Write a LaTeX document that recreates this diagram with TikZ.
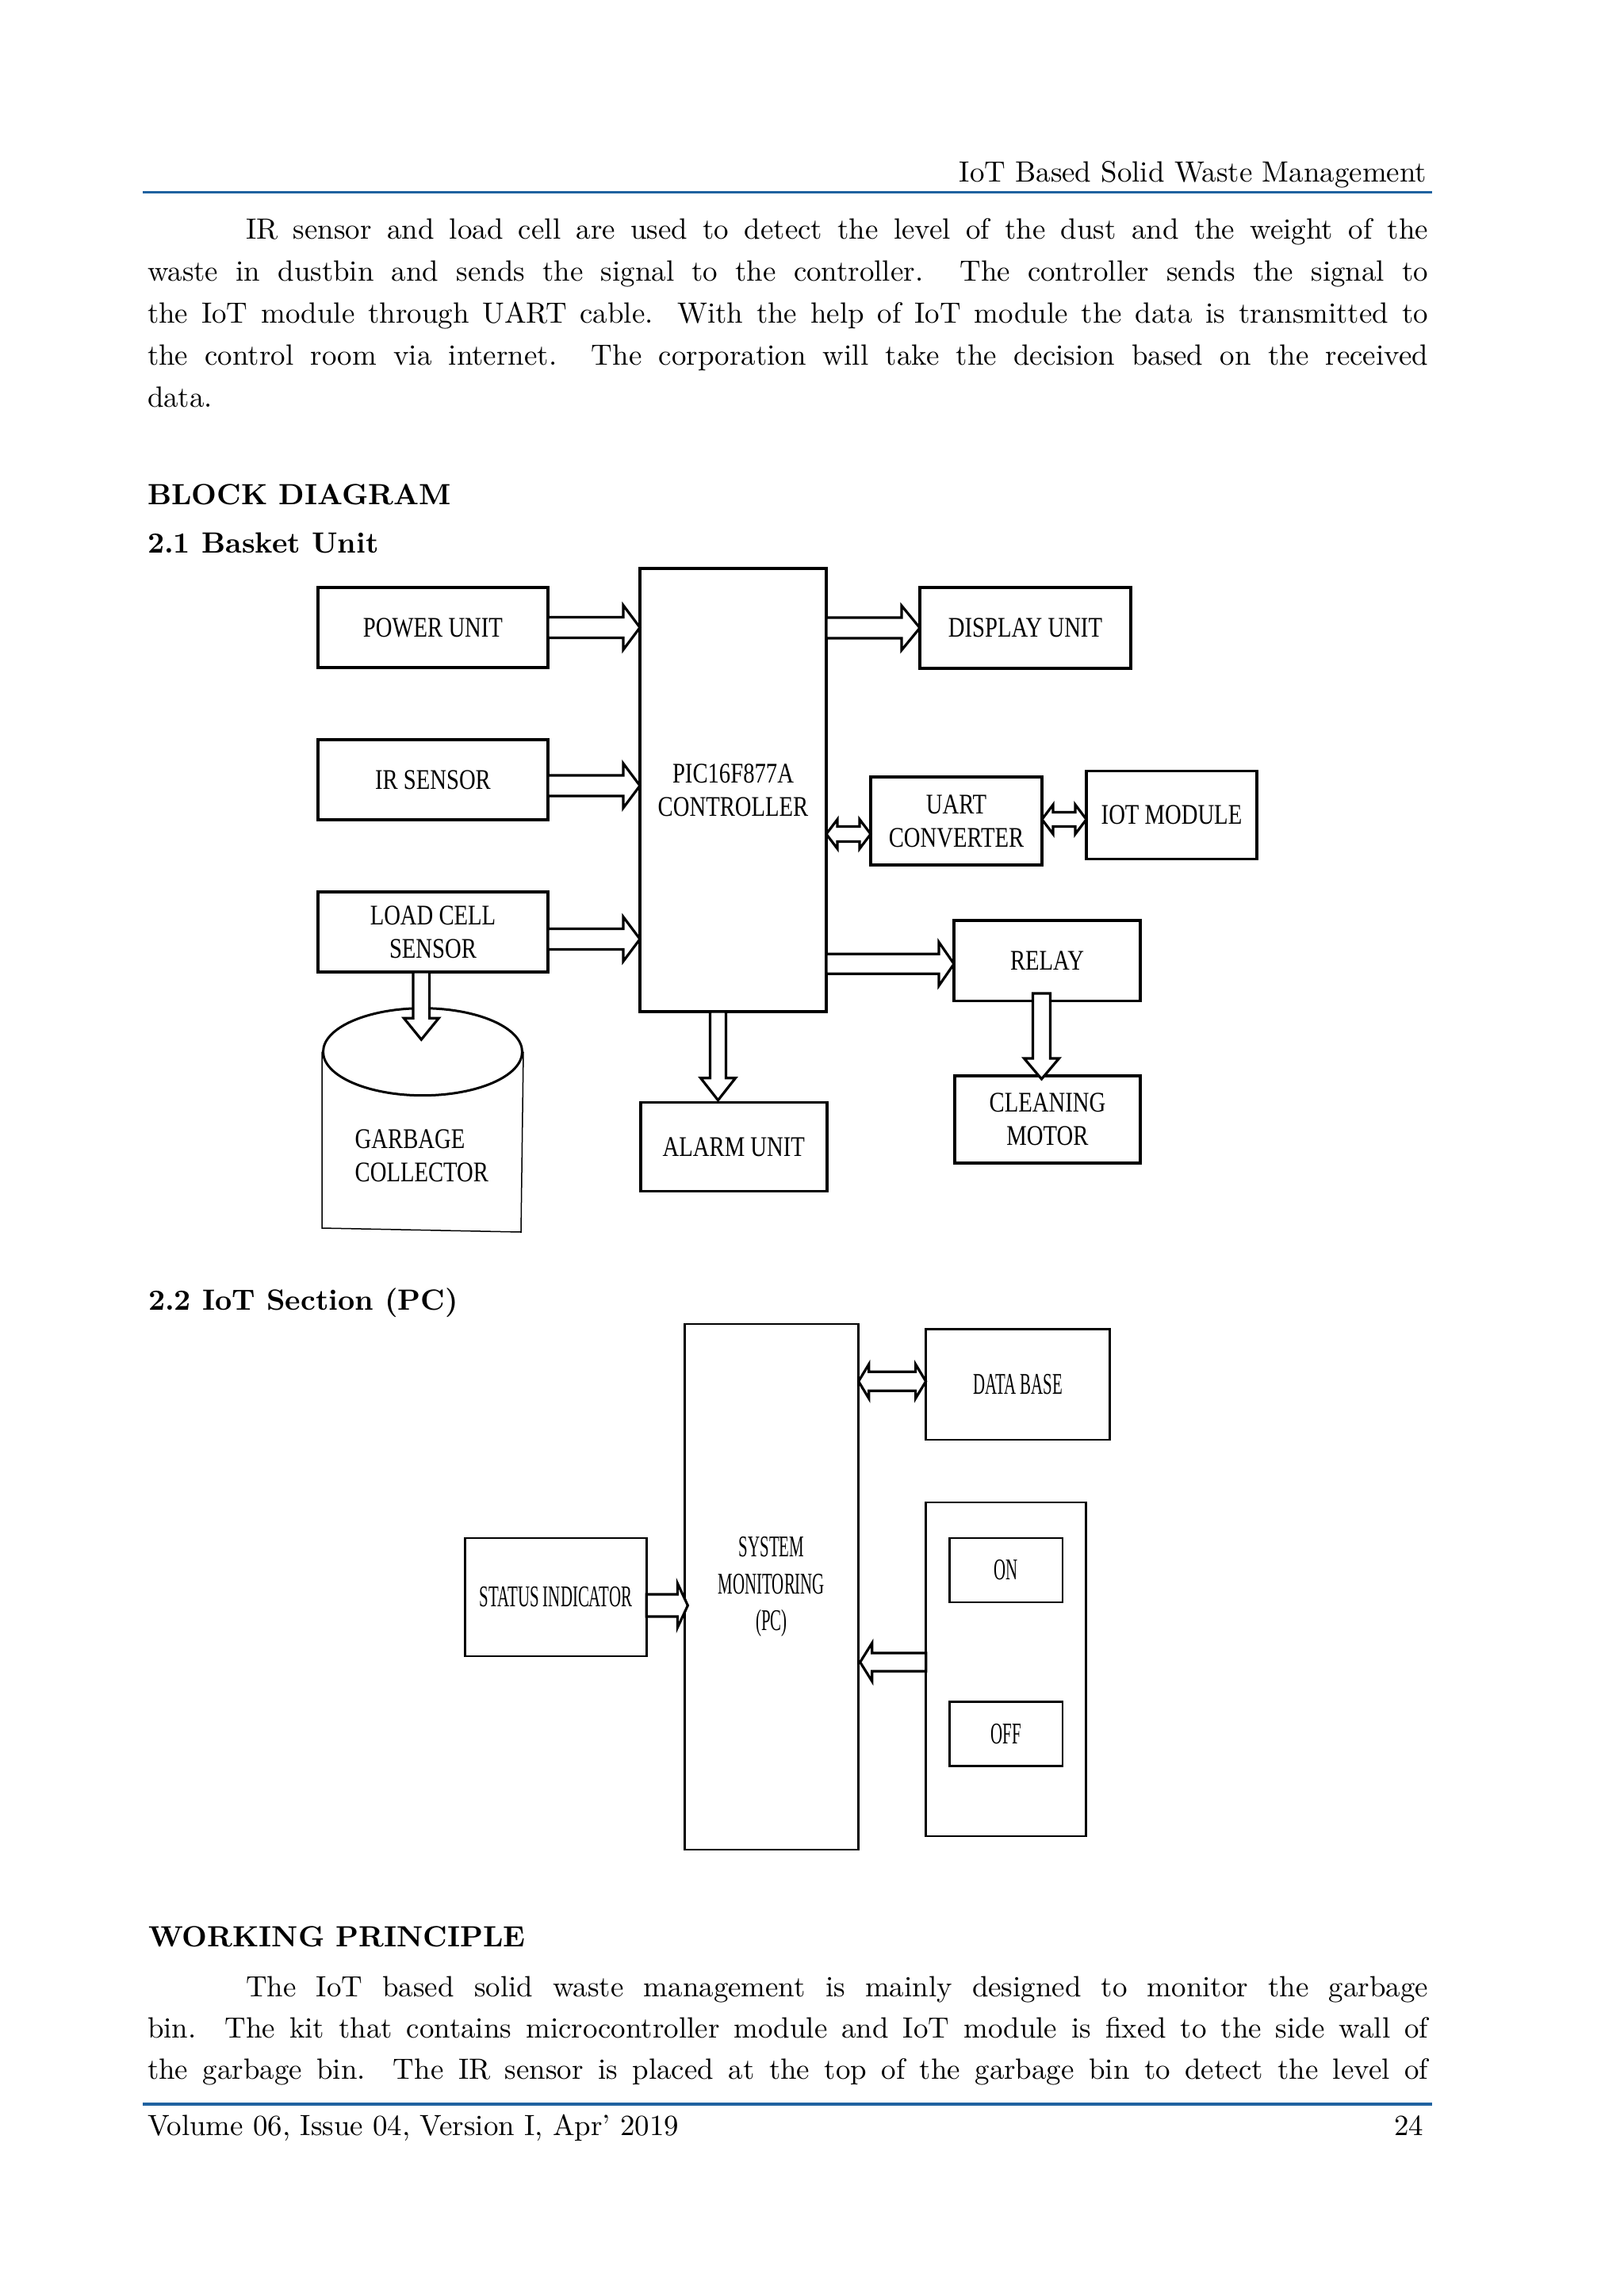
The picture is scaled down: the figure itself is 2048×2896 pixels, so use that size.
\documentclass[tikz,border=0pt]{standalone}
\usepackage{fontspec}
\newfontfamily\diagfA[FakeStretch=0.8]{Liberation Serif}
\newfontfamily\diagfB[FakeStretch=0.55]{Liberation Serif}
\usetikzlibrary{calc,shapes.geometric}
\definecolor{rulec}{RGB}{31,98,160}
\tikzset{
  txt/.style={anchor=base west, inner sep=0pt, outer sep=0pt, font=\fontsize{10.5}{12.6}\selectfont},
  hdg/.style={txt, font=\fontsize{10.5}{12.6}\selectfont\bfseries},
  rulel/.style={draw=rulec, line width=0.33mm},
  blk/.style={draw, line width=0.35mm, inner sep=0pt, outer sep=0pt, align=center,
              font=\diagfA\fontsize{10.2}{11.95}\selectfont},
  blkb/.style={draw, line width=0.28mm, inner sep=0pt, outer sep=0pt, align=center,
              font=\diagfB\fontsize{10.8}{13.2}\selectfont},
  lbl/.style={inner sep=0pt, font=\diagfA\fontsize{10.2}{11.95}\selectfont},
  arr/.style={draw, fill=white, line width=0.32mm, line join=miter},
}
% single hollow arrow: from #1 to #2, shaft half width #3, head half width #4, head length #5
\newcommand{\sarr}[5]{%
  \path ($(#2)!#5!(#1)$) coordinate (hbx);
  \draw[arr] ($(#1)!#3!90:(#2)$) -- ($(hbx)!#3!90:(#2)$) -- ($(hbx)!#4!90:(#2)$) -- (#2)
     -- ($(hbx)!#4!-90:(#2)$) -- ($(hbx)!#3!-90:(#2)$) -- ($(#1)!#3!-90:(#2)$) -- cycle;}
% double hollow arrow
\newcommand{\darr}[5]{%
  \path ($(#1)!#5!(#2)$) coordinate (hax) ($(#2)!#5!(#1)$) coordinate (hbx);
  \draw[arr] (#1) -- ($(hax)!#4!90:(#2)$) -- ($(hax)!#3!90:(#2)$) -- ($(hbx)!#3!90:(#2)$)
     -- ($(hbx)!#4!90:(#2)$) -- (#2) -- ($(hbx)!#4!-90:(#2)$) -- ($(hbx)!#3!-90:(#2)$)
     -- ($(hax)!#3!-90:(#2)$) -- ($(hax)!#4!-90:(#2)$) -- cycle;}
\begin{document}
\begin{tikzpicture}[x=0.1mm,y=-0.1mm]
\useasboundingbox (0,0) rectangle (2048,2896);
\fill[white] (0,0) rectangle (2048,2896);

% ---------- header ----------
\node[txt, anchor=base east] (head) at (1799,230) {IoT Based Solid Waste Management};
\draw[rulel] (180,242.5) -- (1806,242.5);

% ---------- first paragraph ----------
\node[txt] (pa1) at (310,302) {\makebox[149.1mm][s]{IR sensor and load cell are used to detect the level of the dust and the weight of the}};
\node[txt] (pa2) at (186,355) {\makebox[161.5mm][s]{waste in dustbin and sends the signal to the controller. The controller sends the signal to}};
\node[txt] (pa3) at (186,408) {\makebox[161.5mm][s]{the IoT module through UART cable. With the help of IoT module the data is transmitted to}};
\node[txt] (pa4) at (186,461) {\makebox[161.5mm][s]{the control room via internet. The corporation will take the decision based on the received}};
\node[txt] (pa5) at (186,513) {data.};

\node[hdg] (h1) at (186,636) {BLOCK DIAGRAM};
\node[hdg] (h2) at (186,697) {2.1 Basket Unit};

% ---------- basket unit diagram ----------
\node[blk, minimum width=29mm, minimum height=10.1mm] (power) at (546,791.5) {POWER UNIT};
\node[blk, minimum width=29mm, minimum height=10.1mm] (ir) at (546,983.5) {IR SENSOR};
\node[blk, minimum width=29mm, minimum height=10.1mm] (load) at (546,1175.5) {LOAD CELL\\SENSOR};
\node[blk, minimum width=23.5mm, minimum height=55.9mm] (ctrl) at (924.5,996.5) {PIC16F877A\\CONTROLLER};
\node[blk, minimum width=26.6mm, minimum height=10.2mm] (display) at (1293,792) {DISPLAY UNIT};
\node[blk, minimum width=21.6mm, minimum height=11.1mm] (uart) at (1206,1035.5) {UART\\CONVERTER};
\node[blk, minimum width=21.5mm, minimum height=11.1mm] (iot) at (1477.5,1028) {IOT MODULE};
\node[blk, minimum width=23.5mm, minimum height=10.15mm] (relay) at (1320.5,1211.8) {RELAY};
\node[blk, minimum width=23.4mm, minimum height=11mm] (motor) at (1321,1412) {CLEANING\\MOTOR};
\node[blk, minimum width=23.5mm, minimum height=11.2mm] (alarm) at (925.3,1446.7) {ALARM UNIT};

\node[draw, ellipse, line width=0.3mm, minimum width=25.1mm, minimum height=11mm, inner sep=0pt] (bin) at (533,1326.7) {};
\draw[line width=0.15mm] (bin.west) -- ++(0,222.3) coordinate (binbl) -- ++(251,5) coordinate (binbr) -- (bin.east);
\node[lbl, anchor=west, align=left] (gtext) at (447,1457.5) {GARBAGE\\COLLECTOR};

% arrows
\coordinate (pwa) at (power.east); \coordinate (pwb) at (ctrl.west |- pwa);
\sarr{pwa}{pwb}{1.3mm}{2.8mm}{2.1mm}
\coordinate (ira) at ($(ir.east)+(0,7.5)$); \coordinate (irb) at (ctrl.west |- ira);
\sarr{ira}{irb}{1.3mm}{2.8mm}{2.1mm}
\coordinate (lda) at ($(load.east)+(0,9)$); \coordinate (ldb) at (ctrl.west |- lda);
\sarr{lda}{ldb}{1.3mm}{2.8mm}{2.1mm}
\coordinate (dsb) at (display.west); \coordinate (dsa) at (ctrl.east |- dsb);
\sarr{dsa}{dsb}{1.3mm}{2.8mm}{2.3mm}
\coordinate (cub) at ($(uart.west)+(0,16.5)$); \coordinate (cua) at (ctrl.east |- cub);
\darr{cua}{cub}{0.95mm}{1.85mm}{1.4mm}
\coordinate (uia) at ($(uart.east)+(0,-2)$); \coordinate (uib) at (iot.west |- uia);
\darr{uia}{uib}{0.9mm}{1.85mm}{1.4mm}
\coordinate (rlb) at ($(relay.west)+(0,4)$); \coordinate (rla) at (ctrl.east |- rlb);
\sarr{rla}{rlb}{1.25mm}{2.75mm}{1.9mm}
\coordinate (mta) at ($(relay.south)+(-7,-9.6)$); \coordinate (mtb) at ($(mta |- motor.north)+(0,4)$);
\sarr{mta}{mtb}{1.1mm}{2.2mm}{2.6mm}
\coordinate (gba) at ($(load.south)+(-14.7,0)$); \coordinate (gbt) at ($(bin.north)+(0,41)$); \coordinate (gbb) at (gba |- gbt);
\sarr{gba}{gbb}{1.03mm}{2.2mm}{2.7mm}
\coordinate (ala) at ($(ctrl.south)+(-19,0)$); \coordinate (alb) at ($(ala |- alarm.north)+(0,-3)$);
\sarr{ala}{alb}{1.0mm}{2.2mm}{2.8mm}

% ---------- IoT section ----------
\node[hdg] (h3) at (187,1652) {2.2 IoT Section (PC)};

\node[blkb, minimum width=21.93mm, minimum height=66.3mm] (sys) at (973,2001.5) {SYSTEM\\MONITORING\\(PC)};
\node[blkb, minimum width=23.2mm, minimum height=13.94mm] (db) at (1283.6,1746.3) {DATA BASE};
\node[blkb, minimum width=22.85mm, minimum height=14.9mm] (status) at (701,2014.5) {STATUS INDICATOR};
\node[blkb, minimum width=20.2mm, minimum height=42.1mm] (panel) at (1268.7,2105.5) {};
\node[blkb, minimum width=14.25mm, minimum height=8.1mm] (on) at (1268.7,1980.5) {ON};
\node[blkb, minimum width=14.25mm, minimum height=8.03mm] (off) at (1268.7,2187) {OFF};

\coordinate (sdb) at ($(db.west)+(0,-4)$); \coordinate (sda) at (sys.east |- sdb);
\darr{sda}{sdb}{1.2mm}{2.15mm}{1.3mm}
\coordinate (sta) at ($(status.east)+(0,10.5)$); \coordinate (stb) at ($(sys.west |- sta)+(4,0)$);
\sarr{sta}{stb}{1.4mm}{2.8mm}{1.3mm}
\coordinate (pna) at ($(panel.west)+(0,-9)$); \coordinate (pnb) at ($(sys.east |- pna)+(2,0)$);
\sarr{pna}{pnb}{1.15mm}{2.4mm}{1.5mm}

% ---------- working principle ----------
\node[hdg] (h4) at (187,2455) {WORKING PRINCIPLE};
\node[txt] (pb1) at (310,2518) {\makebox[149.1mm][s]{The IoT based solid waste management is mainly designed to monitor the garbage}};
\node[txt] (pb2) at (186,2570) {\makebox[161.5mm][s]{bin.\ \ The kit that contains microcontroller module and IoT module is fixed to the side wall of}};
\node[txt] (pb3) at (186,2622) {\makebox[161.5mm][s]{the garbage bin. The IR sensor is placed at the top of the garbage bin to detect the level of}};

% ---------- footer ----------
\draw[rulel] (180,2654) -- (1806,2654);
\node[txt] (foot) at (186,2693) {Volume 06, Issue 04, Version I, Apr’ 2019};
\node[txt, anchor=base east] (pg) at (1795,2693) {24};
\end{tikzpicture}
\end{document}
